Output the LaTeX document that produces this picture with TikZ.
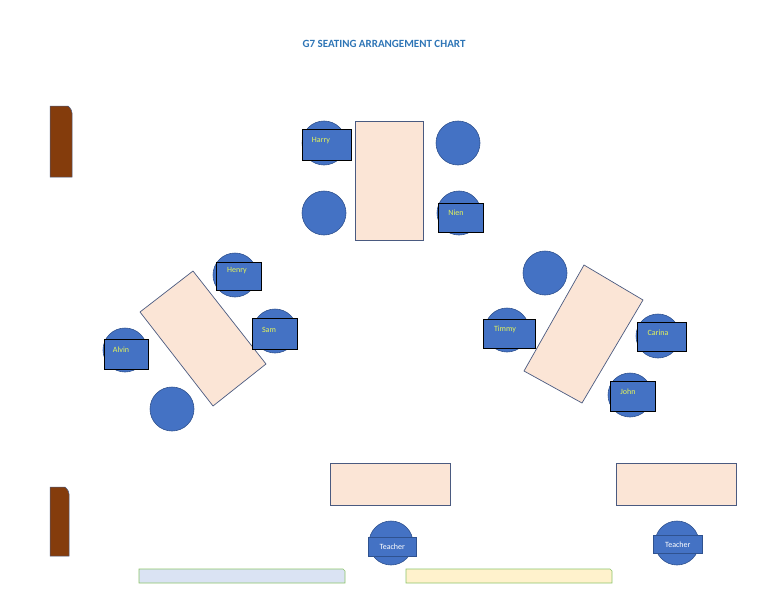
\documentclass[tikz,border=0pt]{standalone}
\usepackage{fontspec}
\setmainfont{Carlito}
\definecolor{chairblue}{HTML}{4472C4}
\definecolor{chairedge}{HTML}{2F528F}
\definecolor{tablefill}{HTML}{FBE5D6}
\definecolor{tableedge}{HTML}{4A5A80}
\definecolor{door}{HTML}{843C0C}
\definecolor{titleblue}{HTML}{2E75B6}
\definecolor{nameyellow}{HTML}{E6F55A}
\definecolor{barblue}{HTML}{DAE3F3}
\definecolor{baryellow}{HTML}{FFF2CC}
\definecolor{bargreen}{HTML}{8CC46A}
\begin{document}
\begin{tikzpicture}[x=1pt,y=-1pt,
  chair/.style={circle,fill=chairblue,draw=chairedge,line width=0.6pt,minimum size=44pt,inner sep=0pt},
  namebox/.style={fill=chairblue,draw=black,line width=0.8pt,text=nameyellow,font=\fontsize{8}{9}\selectfont,inner sep=0pt},
  teacherbox/.style={fill=chairblue,draw=chairedge,line width=0.5pt,text=white,font=\fontsize{8}{9}\selectfont,inner sep=0pt},
  tablebox/.style={fill=tablefill,draw=tableedge,line width=0.7pt},
  doorbox/.style={fill=door,draw=tableedge,line width=0.5pt,rounded corners=0pt}]
\useasboundingbox (0,0) rectangle (768,594);
\node[font=\bfseries\fontsize{11}{13}\selectfont,text=titleblue] (title) at (384,44) {G7 SEATING ARRANGEMENT CHART};
% doors
\draw[doorbox] (50,177) -- (50,106) -- (68,106) [rounded corners=3pt] -- (72,110) [sharp corners]-- (72,177) -- cycle;
\draw[doorbox] (50,556) -- (50,487) -- (65,487) [rounded corners=3pt] -- (69,491) [sharp corners]-- (69,556) -- cycle;
% top group
\draw[tablebox] (355,121) rectangle (423,240);
\node[chair] (c1) at (324,143) {};
\node[chair] (c2) at (458,143) {};
\node[chair] (c3) at (324,213) {};
\node[chair] (c4) at (459,213) {};
\node[namebox,minimum width=49pt,minimum height=31pt,anchor=north west] (harry) at (302,129) {};
\node[text=nameyellow,font=\fontsize{8}{9}\selectfont] at (321,141) {Harry};
\node[namebox,minimum width=45pt,minimum height=29pt,anchor=north west] (nien) at (438,203) {};
\node[text=nameyellow,font=\fontsize{8}{9}\selectfont] at (456,213) {Nien};
% left group
\draw[tablebox] (140,312) -- (193,271) -- (266,364) -- (213,406) -- cycle;
\node[chair] (c5) at (235,275) {};
\node[chair] (c6) at (275,331) {};
\node[chair] (c7) at (125,350) {};
\node[chair] (c8) at (172,409) {};
\node[namebox,minimum width=45pt,minimum height=28pt,anchor=north west] (henry) at (216,262) {};
\node[text=nameyellow,font=\fontsize{8}{9}\selectfont] at (237,271) {Henry};
\node[namebox,minimum width=45pt,minimum height=31pt,anchor=north west] (sam) at (252,318) {};
\node[text=nameyellow,font=\fontsize{8}{9}\selectfont] at (269,330) {Sam};
\node[namebox,minimum width=44pt,minimum height=30pt,anchor=north west] (alvin) at (104,339) {};
\node[text=nameyellow,font=\fontsize{8}{9}\selectfont] at (121,350) {Alvin};
% right group
\draw[tablebox] (524,371) -- (584,265) -- (643,300) -- (582,403) -- cycle;
\node[chair] (c9) at (545,273) {};
\node[chair] (c10) at (507,330) {};
\node[chair] (c11) at (658,336) {};
\node[chair] (c12) at (630,395) {};
\node[namebox,minimum width=52pt,minimum height=29pt,anchor=north west] (timmy) at (483,319) {};
\node[text=nameyellow,font=\fontsize{8}{9}\selectfont] at (505,329) {Timmy};
\node[namebox,minimum width=49pt,minimum height=29pt,anchor=north west] (carina) at (637,322) {};
\node[text=nameyellow,font=\fontsize{8}{9}\selectfont] at (658,333) {Carina};
\node[namebox,minimum width=45pt,minimum height=30pt,anchor=north west] (john) at (610,381) {};
\node[text=nameyellow,font=\fontsize{8}{9}\selectfont] at (628,392) {John};
% front
\draw[tablebox] (330,463) rectangle (450,505);
\draw[tablebox] (616,463) rectangle (736,505);
\node[chair] (t1) at (391,543) {};
\node[chair] (t2) at (677,543) {};
\node[teacherbox,minimum width=48pt,minimum height=19pt,anchor=north west] (teach1) at (368,537) {Teacher};
\node[teacherbox,minimum width=49pt,minimum height=18pt,anchor=north west] (teach2) at (653,535) {Teacher};
\draw[fill=barblue,draw=bargreen,line width=0.7pt] (139,583) -- (139,569) -- (343,569) to[out=0,in=-90] (345,571) -- (345,583) -- cycle;
\draw[fill=baryellow,draw=bargreen,line width=0.7pt] (406,583) -- (406,569) -- (610,569) to[out=0,in=-90] (612,571) -- (612,583) -- cycle;
\end{tikzpicture}
\end{document}
